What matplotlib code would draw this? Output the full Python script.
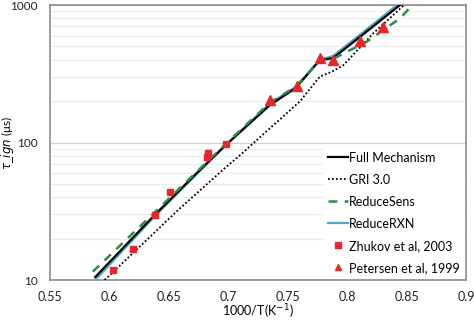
import matplotlib
matplotlib.use("Agg")
import matplotlib.pyplot as plt
from matplotlib.ticker import FixedLocator, LogLocator, NullFormatter

plt.rcParams['font.family'] = ['Lato', 'DejaVu Sans']
plt.rcParams['mathtext.fontset'] = 'dejavusans'

# Ignition delay vs inverse temperature
full_x = [0.588, 0.638, 0.676, 0.698, 0.735, 0.757, 0.777, 0.788, 0.811, 0.8445]
full_y = [10.5, 29.7, 63, 96, 187, 250, 398, 410, 588, 1000]

gri_x = [0.596, 0.659, 0.697, 0.710, 0.760, 0.777, 0.788, 0.797, 0.822, 0.848]
gri_y = [10, 33, 65, 81, 198, 301, 330, 366, 622, 1000]

sens_x = [0.586, 0.638, 0.698, 0.735, 0.757, 0.777, 0.788, 0.8165, 0.8445, 0.855]
sens_y = [11.5, 31, 98, 195, 255, 395, 405, 541, 800, 1000]

rxn_x = [0.589, 0.638, 0.698, 0.735, 0.757, 0.777, 0.788, 0.811, 0.842]
rxn_y = [10.2, 29, 96, 192, 255, 400, 425, 610, 1000]

zhukov_x = [0.603, 0.620, 0.638, 0.651, 0.682, 0.683, 0.698]
zhukov_y = [11.8, 16.8, 29.7, 43.4, 78, 84, 97]

petersen_x = [0.735, 0.758, 0.777, 0.788, 0.811, 0.830]
petersen_y = [204, 258, 409, 398, 550, 690]

x_ticks = [0.55, 0.6, 0.65, 0.7, 0.75, 0.8, 0.85, 0.9]
x_tick_labels = ['0.55', '0.6', '0.65', '0.7', '0.75', '0.8', '0.85', '0.9']
y_ticks = [10, 100, 1000]
y_tick_labels = ['10', '100', '1000']

fig = plt.figure(figsize=(4.74, 3.21), dpi=100)
ax = fig.add_axes([0.1055, 0.1277, 0.8775, 0.8567])

ax.plot(full_x, full_y, color='black', lw=1.6, label='Full Mechanism', zorder=4)
ax.plot(gri_x, gri_y, color='black', lw=1.3, ls=(0, (1, 1.2)), label='GRI 3.0', zorder=3)
ax.plot(sens_x, sens_y, color='#2e8b45', lw=1.8, ls=(0, (3.5, 3)), label='ReduceSens', zorder=5)
ax.plot(rxn_x, rxn_y, color='#4bacc6', lw=1.6, label='ReduceRXN', zorder=3)
ax.plot(zhukov_x, zhukov_y, ls='none', marker='s', ms=5, color='#e8262b',
        label='Zhukov et al, 2003', zorder=6)
ax.plot(petersen_x, petersen_y, ls='none', marker='^', ms=6.5, color='#e8262b',
        label='Petersen et al, 1999', zorder=6)

ax.set_yscale('log')
ax.set_xlim(0.55, 0.9)
ax.set_ylim(10, 1000)
ax.xaxis.set_major_locator(FixedLocator(x_ticks))
ax.set_xticklabels(x_tick_labels)
ax.yaxis.set_major_locator(FixedLocator(y_ticks))
ax.set_yticklabels(y_tick_labels)
ax.yaxis.set_minor_locator(LogLocator(base=10, subs=range(2, 10)))
ax.yaxis.set_minor_formatter(NullFormatter())

ax.grid(axis='y', which='major', color='#d0d0d0', lw=0.9)
ax.grid(axis='y', which='minor', color='#ececec', lw=0.8)
ax.set_axisbelow(True)

ax.tick_params(axis='both', which='both', length=0, labelsize=9, colors='#222222')
ax.tick_params(axis='x', pad=8)
ax.tick_params(axis='y', pad=9, labelsize=8.5)
for s in ax.spines.values():
    s.set_color('#8c8c8c')
    s.set_linewidth(1.2)

ax.set_xlabel('1000/T(K$^{-1}$)', fontsize=9)
ax.xaxis.label.set_va('center')
ax.xaxis.set_label_coords(0.5, -0.117)
ax.set_ylabel(r'$\tau\_ign$ (μs)', fontsize=8.5)
ax.yaxis.label.set_va('center')
ax.yaxis.set_label_coords(-0.102, 0.5)

leg = ax.legend(loc='lower right', fontsize=9, frameon=True, fancybox=False,
                edgecolor='none', facecolor='white', framealpha=1,
                handlelength=1.6, handletextpad=0.05, labelspacing=0.8,
                borderpad=0.45, borderaxespad=0.05, markerscale=0.75)

fig.savefig('out.png', dpi=100)
